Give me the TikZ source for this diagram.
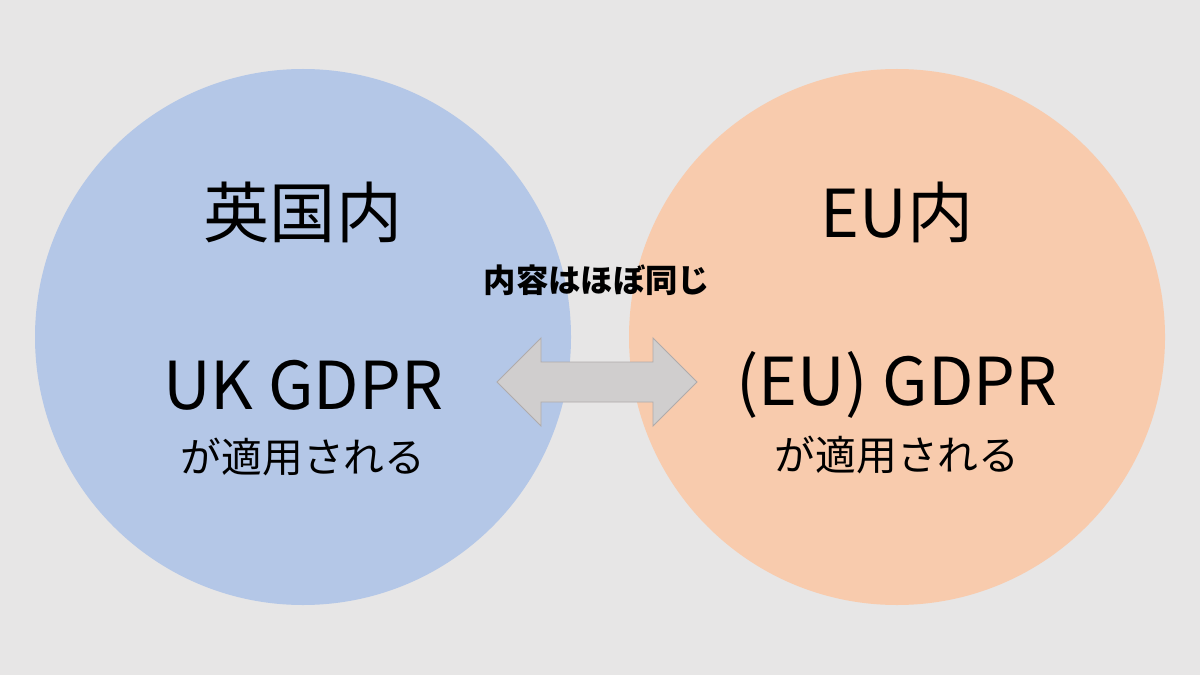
\documentclass[tikz,border=0pt]{standalone}
\usepackage{fontspec}
\setmainfont{Noto Sans CJK JP}
\definecolor{bg}{RGB}{231,230,230}
\definecolor{cblue}{RGB}{180,199,231}
\definecolor{corange}{RGB}{248,203,173}
\definecolor{afill}{RGB}{208,206,206}
\definecolor{aline}{RGB}{175,171,171}
\begin{document}
\begin{tikzpicture}[x=0.025cm,y=-0.025cm,
  lbl/.style={inner sep=0pt,anchor=center},
  big/.style={lbl,font=\fontsize{47}{50}\selectfont},
  small/.style={lbl,font=\fontsize{29}{32}\selectfont}]
\fill[bg] (0,0) rectangle (1200,675);
\useasboundingbox (0,0) rectangle (1200,675);
\fill[cblue] (303,337) circle (268);
\fill[corange] (897,337) circle (268);
\node[big] (uk) at (303,212) {英国内};
\node[big] (eu) at (897,212) {EU内};
\node[lbl,font=\fontsize{23}{26}\selectfont\bfseries] (same) at (597,280) {内容はほぼ同じ};
\node[big] (ukg) at (303,385) {UK GDPR};
\node[big] (eug) at (897,385) {(EU) GDPR};
\node[small] (uka) at (303,457) {が適用される};
\node[small] (eua) at (897,455) {が適用される};
\filldraw[fill=afill,draw=aline,line width=0.6pt]
 (497,382) -- (541,338) -- (541,362) -- (653,362) -- (653,338) -- (697,382)
 -- (653,426) -- (653,402) -- (541,402) -- (541,426) -- cycle;
\end{tikzpicture}
\end{document}
